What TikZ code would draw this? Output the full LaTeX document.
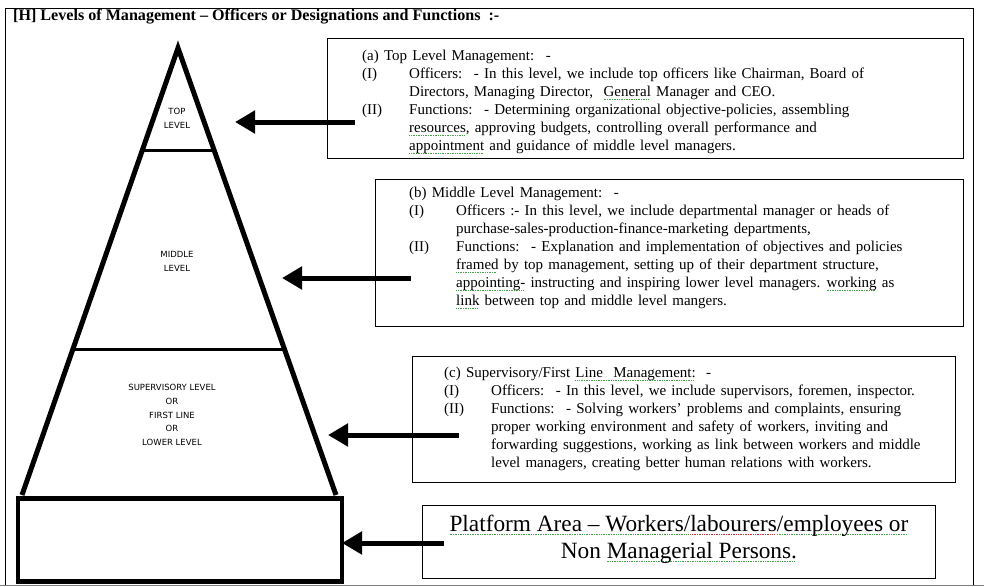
\documentclass[tikz,border=0pt]{standalone}
\usepackage{fontspec}
\setmainfont{Liberation Serif}
\newfontfamily\levelfont{DejaVu Sans}
\usetikzlibrary{arrows.meta,calc,positioning}

\definecolor{spellgreen}{RGB}{70,160,70}
\definecolor{spellred}{RGB}{200,50,50}
\newsavebox\markbox
\newcommand{\rowlabel}[1]{\makebox[47pt][l]{#1}}
\newcommand{\rowgap}{\hspace*{47pt}}
\newcommand{\boxfont}{\fontsize{15}{18}\selectfont\spaceskip=5.2pt plus 1pt\relax}
\newcommand{\spellmark}[2]{\sbox\markbox{#2}\rlap{\textcolor{#1}{\lower3.5pt\hbox to\wd\markbox{\leaders\hbox{\rule{1pt}{0.7pt}\kern0.7pt}\hfil}}}\usebox\markbox}
\newcommand{\greenmark}[1]{\spellmark{spellgreen}{#1}}
\newcommand{\redmark}[1]{\spellmark{spellred}{#1}}

\begin{document}
\begin{tikzpicture}[
    x=1pt, y=-1pt,
    infobox/.style={
      rectangle,
      draw,
      line width=0.8pt,
      anchor=north west,
      inner sep=0pt
    },
    boxtext/.style={
      anchor=north west,
      align=left,
      inner sep=0pt,
      font=\boxfont
    },
    levellabel/.style={
      align=center,
      font=\levelfont\fontsize{8.5}{13.8}\selectfont
    },
    pointer/.style={
      line width=5pt,
      -{Triangle[length=20pt,width=22pt]}
    }
  ]
  \useasboundingbox (0,0) rectangle (984,586);
  \draw[line width=0.8pt] (5,586) -- (5,8) -- (973,8) -- (973,586);
  \draw[gray, line width=1pt] (0,585.5) -- (984,585.5);
  \node[anchor=west, inner sep=0pt, font=\bfseries\fontsize{16.1}{18}\selectfont] (title) at (13,17)
    {[H] Levels of Management -- Officers or Designations and Functions~ :-};

  \coordinate (apex) at (178,48);
  \coordinate (baseL) at (22,495);
  \coordinate (baseR) at (336,495);
  \draw[line width=5pt, line join=miter] (baseL) -- (apex) -- (baseR);
  \draw[line width=3pt] ($(apex)!0.2304!(baseL)$) -- ($(apex)!0.2304!(baseR)$);
  \draw[line width=3pt] ($(apex)!0.6734!(baseL)$) -- ($(apex)!0.6734!(baseR)$);
  \node[draw, line width=4.5pt, minimum width=324pt, minimum height=83pt, anchor=north west] (platformbase) at (15.5,496) {};

  \node[levellabel] (toplabel) at (177,118) {TOP\\LEVEL};
  \node[levellabel] (midlabel) at (177,261) {MIDDLE\\LEVEL};
  \node[levellabel] (lowlabel) at (172,415) {SUPERVISORY LEVEL\\OR\\FIRST LINE\\OR\\LOWER LEVEL};

  \node[infobox, minimum width=636pt, minimum height=120pt] (topbox) at (327,38) {};
  \node[boxtext] (toptext) at (362,50) {(a) Top Level Management:~ -\\
    \rowlabel{(I)}Officers:~ - In this level, we include top officers like Chairman, Board of\\
    \rowgap Directors, Managing Director,~ \greenmark{General} Manager and CEO.\\
    \rowlabel{(II)}Functions:~ - Determining organizational objective-policies, assembling\\
    \rowgap \greenmark{resources}, approving budgets, controlling overall performance and\\
    \rowgap \greenmark{appointment} and guidance of middle level managers.};

  \node[infobox, minimum width=588pt, minimum height=147pt] (midbox) at (375,179) {};
  \node[boxtext] (midtext) at (409,187) {(b) Middle Level Management:~ -\\
    \rowlabel{(I)}Officers :- In this level, we include departmental manager or heads of\\
    \rowgap purchase-sales-production-finance-marketing departments,\\
    \rowlabel{(II)}Functions:~ - Explanation and implementation of objectives and policies\\
    \rowgap \greenmark{framed} by top management, setting up of their department structure,\\
    \rowgap \greenmark{appointing-} instructing and inspiring lower level managers. \greenmark{working} as\\
    \rowgap \greenmark{link} between top and middle level mangers.};

  \node[infobox, minimum width=543pt, minimum height=126pt] (lowbox) at (412,356) {};
  \node[boxtext] (lowtext) at (444,367) {(c) Supervisory/First \greenmark{Line~ Management:}~ -\\
    \rowlabel{(I)}Officers:~ - In this level, we include supervisors, foremen, inspector.\\
    \rowlabel{(II)}Functions:~ - Solving workers' problems and complaints, ensuring\\
    \rowgap proper working environment and safety of workers, inviting and\\
    \rowgap forwarding suggestions, working as link between workers and middle\\
    \rowgap level managers, creating better human relations with workers.};

  \node[infobox, minimum width=513pt, minimum height=73pt] (platformbox) at (422,505) {};
  \node[align=center, font=\fontsize{23.3}{27}\selectfont] (platformtext) at ([yshift=3pt]platformbox.center)
    {\greenmark{Platform Area -- Workers/}\redmark{labourers}\greenmark{/employees or}\\Non \greenmark{Managerial Persons.}};

  \coordinate (topfrom) at (355,122);
  \coordinate (topto) at (235,122);
  \coordinate (midfrom) at (411,278);
  \coordinate (midto) at (282,278);
  \coordinate (lowfrom) at (459,435);
  \coordinate (lowto) at (328,435);
  \coordinate (platformfrom) at (444,543);
  \coordinate (platformto) at (342,543);
  \draw[pointer] (topfrom) -- (topto);
  \draw[pointer] (midfrom) -- (midto);
  \draw[pointer] (lowfrom) -- (lowto);
  \draw[pointer] (platformfrom) -- (platformto);
\end{tikzpicture}
\end{document}
